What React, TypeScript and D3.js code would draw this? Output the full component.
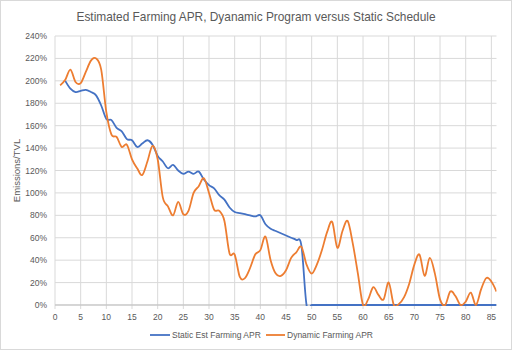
import React from "react";
import * as d3 from "d3";

const title = "Estimated Farming APR, Dyanamic Program versus Static Schedule";
const yAxisTitle = "Emissions/TVL";
const seriesNames = ["Static Est Farming APR", "Dynamic Farming APR"];

const staticX = [2,3,4,5,6,7,8,9,10,11,12,13,14,15,16,17,18,19,20,21,22,23,24,25,26,27,28,29,30,31,32,33,34,35,36,37,38,39,40,41,42,43,44,45,46,47,48,49,50,51,52,53,54,55,56,57,58,59,60,61,62,63,64,65,66,67,68,69,70,71,72,73,74,75,76,77,78,79,80,81,82,83,84,85,86];
const staticY = [200,193,190,191,192,190,187,178,166,165,158,155,148,147,141,144,147,143,133,128,122,125,120,117,119,117,119,112,107,104,98,94,87,83,82,81,80,79,80,72,68,66,64,62,60,58,53,0,0,0,0,0,0,0,0,0,0,0,0,0,0,0,0,0,0,0,0,0,0,0,0,0,0,0,0,0,0,0,0,0,0,0,0,0,0];

const dynX = [1,2,3,4,5,6,7,8,9,10,11,12,13,14,15,16,17,18,19,20,21,22,23,24,25,26,27,28,29,30,31,32,33,34,35,36,37,38,39,40,41,42,43,44,45,46,47,48,49,50,51,52,53,54,55,56,57,58,59,60,61,62,63,64,65,66,67,68,69,70,71,72,73,74,75,76,77,78,79,80,81,82,83,84,85,86];
const dynY = [196,201,210,199,198,208,218,220,210,172,152,150,141,143,130,122,116,128,142,130,96,88,80,92,81,84,100,106,113,100,85,84,75,46,45,25,24,33,45,49,61,40,28,26,31,42,47,52,36,28,36,49,65,74,51,66,75,55,28,0,5,16,9,5,20,0,1,7,19,36,45,26,42,28,5,0,12,8,0,3,11,0,14,24,21,12];

const xTicks = [0,5,10,15,20,25,30,35,40,45,50,55,60,65,70,75,80,85];
const yTicks = [0,20,40,60,80,100,120,140,160,180,200,220,240];

const W = 512, H = 350;
const M = { left: 55, right: 15.5, top: 36, bottom: 45 };
const colors = ["#4472C4", "#ED7D31"];
const font = "'Liberation Sans', Arial, sans-serif";
const textColor = "#595959";

export default function App() {
  const x = d3.scaleLinear().domain([0, 86]).range([M.left, W - M.right]);
  const y = d3.scaleLinear().domain([0, 240]).range([H - M.bottom, M.top]);
  const line = d3
    .line<[number, number]>()
    .x((d) => x(d[0]))
    .y((d) => y(d[1]))
    .curve(d3.curveCardinal.tension(0));
  const sData: [number, number][] = staticX.map((v, i) => [v, staticY[i]]);
  const dData: [number, number][] = dynX.map((v, i) => [v, dynY[i]]);
  const x0 = x(0), x1 = x(86), y0 = y(0), y1 = y(240);

  const legendY = 335;
  return (
    <svg width={W} height={H} style={{ position: "absolute", left: 0, top: 0, background: "#fff" }}>
      <rect x={0.5} y={0.5} width={W - 1} height={H - 1} fill="#fff" stroke="#d9d9d9" />
      <defs>
        <clipPath id="plotclip">
          <rect x={x0} y={y1 - 2} width={x1 - x0} height={y0 - y1 + 3} />
        </clipPath>
      </defs>
      <text x={W / 2} y={21} textAnchor="middle" fontFamily={font} fontSize={13.5} fill={textColor} textLength={359} lengthAdjust="spacingAndGlyphs">
        {title}
      </text>
      {yTicks.map((t) => (
        <line key={"h" + t} x1={x0} x2={x1} y1={y(t)} y2={y(t)} stroke="#d9d9d9" strokeWidth={1} />
      ))}
      {xTicks.map((t) => (
        <line key={"v" + t} x1={x(t)} x2={x(t)} y1={y1} y2={y0 + 4} stroke="#d9d9d9" strokeWidth={1} />
      ))}
      <line x1={x0} x2={x1} y1={y0} y2={y0} stroke="#bfbfbf" strokeWidth={1} />
      {yTicks.map((t) => (
        <text key={"yl" + t} x={47} y={y(t) + 3} textAnchor="end" fontFamily={font} fontSize={8.5} fill={textColor}>
          {t + "%"}
        </text>
      ))}
      {xTicks.map((t) => (
        <text key={"xl" + t} x={x(t)} y={y0 + 15} textAnchor="middle" fontFamily={font} fontSize={8.5} fill={textColor}>
          {t}
        </text>
      ))}
      <text transform={`translate(20,${(y0 + y1) / 2}) rotate(-90)`} textAnchor="middle" fontFamily={font} fontSize={9.5} fill={textColor}>
        {yAxisTitle}
      </text>
      <g clipPath="url(#plotclip)">
        <path d={line(sData) || ""} fill="none" stroke={colors[0]} strokeWidth={1.8} strokeLinejoin="round" />
        <path d={line(dData) || ""} fill="none" stroke={colors[1]} strokeWidth={1.8} strokeLinejoin="round" />
      </g>
      <line x1={150} x2={170} y1={legendY} y2={legendY} stroke={colors[0]} strokeWidth={1.8} />
      <text x={172} y={legendY + 3} fontFamily={font} fontSize={8.5} fill={textColor}>{seriesNames[0]}</text>
      <line x1={266} x2={285} y1={legendY} y2={legendY} stroke={colors[1]} strokeWidth={1.8} />
      <text x={287} y={legendY + 3} fontFamily={font} fontSize={8.5} fill={textColor}>{seriesNames[1]}</text>
    </svg>
  );
}
